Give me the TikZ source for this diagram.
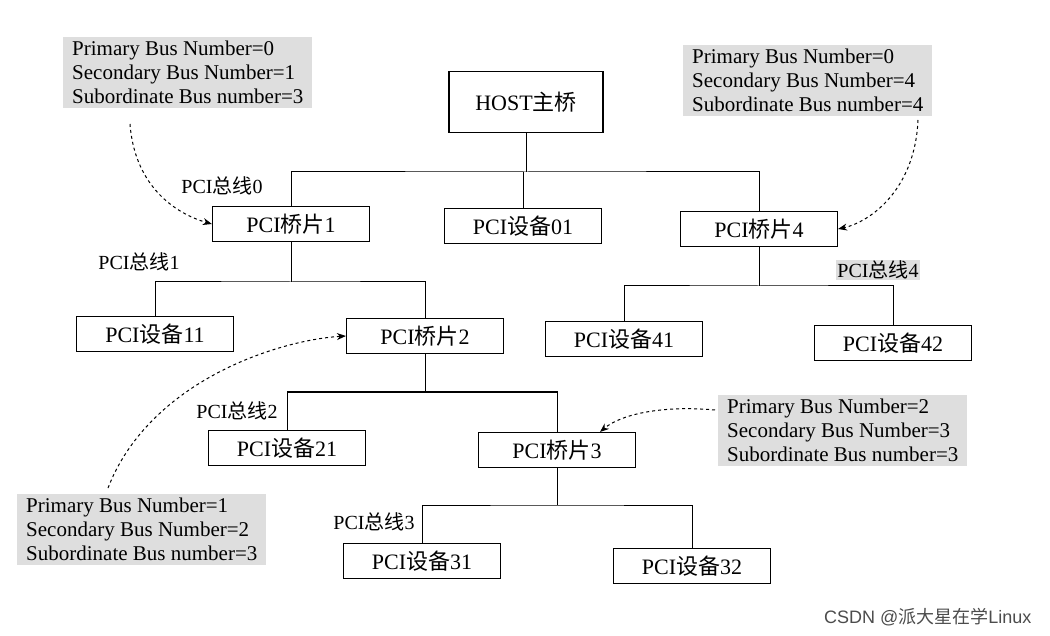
\documentclass[tikz,border=0pt]{standalone}
\usepackage{fontspec}
\setmainfont{Liberation Serif}
\newfontfamily\cjk{Noto Sans CJK SC}
\newfontfamily\wm{Liberation Sans}
\usetikzlibrary{arrows.meta}
\begin{document}
\begin{tikzpicture}[x=1pt,y=-1pt,
  box/.style={draw,line width=1.2pt,minimum width=157pt,minimum height=35pt,font=\fontsize{22}{24}\selectfont,inner sep=0pt},
  info/.style={fill=black!13,align=left,anchor=north west,font=\fontsize{21}{24}\selectfont,inner xsep=9pt,inner ysep=4pt},
  bus/.style={line width=1pt},
  lbl/.style={font=\fontsize{20}{22}\selectfont,inner sep=1pt},
  da/.style={dashed,line width=1pt,-{Stealth[length=9pt,width=7pt]}}]
\useasboundingbox (0,0) rectangle (1050,636);
\node[box,minimum height=61pt,minimum width=154pt] (host) at (526,102) {HOST{\cjk 主桥}};
\node[box] (b1) at (291,224) {PCI{\cjk 桥片}1};
\node[box] (d01) at (523,226) {PCI{\cjk 设备}01};
\node[box] (b4) at (759,229) {PCI{\cjk 桥片}4};
\node[box] (d11) at (155,334) {PCI{\cjk 设备}11};
\node[box] (b2) at (425,336) {PCI{\cjk 桥片}2};
\node[box] (d41) at (624,339) {PCI{\cjk 设备}41};
\node[box] (d42) at (893,343) {PCI{\cjk 设备}42};
\node[box] (d21) at (287,448) {PCI{\cjk 设备}21};
\node[box] (b3) at (557,450) {PCI{\cjk 桥片}3};
\node[box] (d31) at (422,561) {PCI{\cjk 设备}31};
\node[box] (d32) at (692,566) {PCI{\cjk 设备}32};
% buses
\coordinate (h0) at (526,172);
\draw[bus] (host.south) -- (h0);
\draw[bus] (b1.north) |- (h0) -| (b4.north);
\draw[bus] (d01.north) -- (d01.north |- h0);
\coordinate (h1) at (291,282);
\draw[bus] (b1.south) -- (h1);
\draw[bus] (d11.north) |- (h1) -| (b2.north);
\coordinate (h4) at (759,286);
\draw[bus] (b4.south) -- (h4);
\draw[bus] (d41.north) |- (h4) -| (d42.north);
\coordinate (h2) at (425,392);
\draw[bus] (b2.south) -- (h2);
\draw[bus] (d21.north) |- (h2) -| (b3.north);
\coordinate (h3) at (557,505);
\draw[bus] (b3.south) -- (h3);
\draw[bus] (d31.north) |- (h3) -| (d32.north);
% bus labels
\node[lbl] (l0) at (222,186) {PCI{\cjk 总线}0};
\node[lbl] (l1) at (139,262) {PCI{\cjk 总线}1};
\node[lbl,fill=black!13] (l4) at (878,270) {PCI{\cjk 总线}4};
\node[lbl] (l2) at (237,411) {PCI{\cjk 总线}2};
\node[lbl] (l3) at (374,522) {PCI{\cjk 总线}3};
% info boxes
\node[info] (i1) at (63,37) {Primary Bus Number=0\\Secondary Bus Number=1\\Subordinate Bus number=3};
\node[info] (i4) at (683,45) {Primary Bus Number=0\\Secondary Bus Number=4\\Subordinate Bus number=4};
\node[info] (i3) at (718,395) {Primary Bus Number=2\\Secondary Bus Number=3\\Subordinate Bus number=3};
\node[info] (i2) at (17,494) {Primary Bus Number=1\\Secondary Bus Number=2\\Subordinate Bus number=3};
\coordinate (s1) at (130,124);
\coordinate (s4) at (918,120);
\coordinate (s3) at (715,410);
\coordinate (s2) at (108,488);
\draw[da] (s1) .. controls (135,190) and (180,215) .. (b1.west);
\draw[da] (s4) .. controls (915,190) and (870,222) .. (b4.east);
\draw[da] (s3) .. controls (660,405) and (620,415) .. (600,432);
\draw[da] (s2) .. controls (150,380) and (280,340) .. (b2.west);
\node[font=\wm\fontsize{18}{20}\selectfont,text=black!70,anchor=east] (wm) at (1035,617) {CSDN @{\cjk 派大星在学}Linux};
\end{tikzpicture}
\end{document}
